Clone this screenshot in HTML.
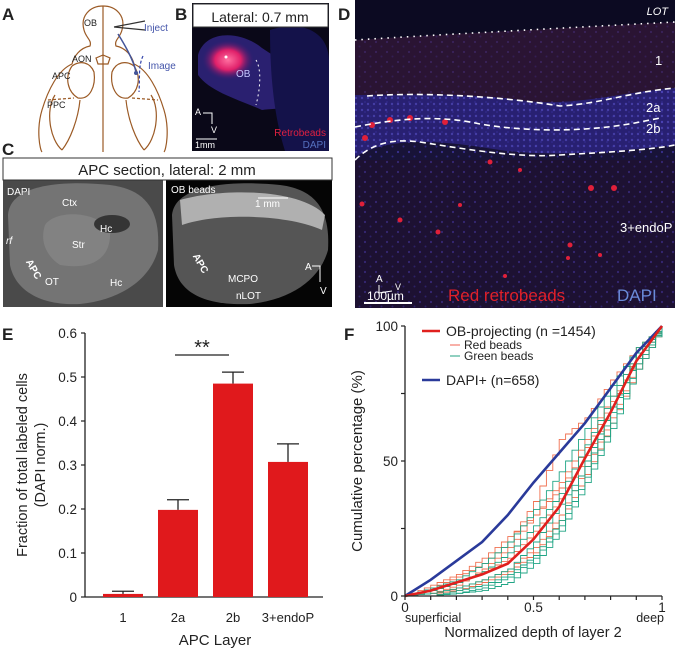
<!DOCTYPE html>
<html><head><meta charset="utf-8"><style>
html,body{margin:0;padding:0;background:#fff;}
body{width:675px;height:651px;position:relative;overflow:hidden;font-family:"Liberation Sans",sans-serif;}
svg{position:absolute;left:0;top:0;}
</style></head><body>
<svg width="675" height="651" viewBox="0 0 675 651" font-family="Liberation Sans, sans-serif">
<defs>
<pattern id="dapi" width="11" height="10" patternUnits="userSpaceOnUse">
<rect width="11" height="10" fill="#181338"/>
<circle cx="2" cy="2" r="1.1" fill="#3a3190"/>
<circle cx="7.5" cy="6.5" r="1" fill="#2e2780"/>
</pattern>
<pattern id="dense" width="6" height="6" patternUnits="userSpaceOnUse">
<rect width="6" height="6" fill="#2c2380"/>
<circle cx="2" cy="2" r="1.2" fill="#5048c0"/>
</pattern>
<radialGradient id="obglow" cx="0.5" cy="0.5" r="0.5">
<stop offset="0" stop-color="#ff6fa0"/><stop offset="0.5" stop-color="#e0206a"/><stop offset="1" stop-color="#3a1a70" stop-opacity="0"/>
</radialGradient>
</defs>

<!-- Panel A -->
<g fill="none" stroke="#9b5a25" stroke-width="1.2">
<text x="2" y="20" font-size="17" font-weight="bold" fill="#222" stroke="none">A</text>
<path d="M103 6 C90 6 80 16 84 30 C86 38 92 40 90 46 C80 48 74 56 72 64 C58 70 48 90 42 110 C36 130 40 150 42 152"/>
<path d="M103 6 C116 6 126 16 122 30 C120 38 114 40 116 46 C126 48 132 56 134 64 C148 70 158 90 164 110 C170 130 166 150 164 152"/>
<line x1="103" y1="6" x2="103" y2="152"/>
<path d="M72 66 C64 78 68 92 78 98 C90 100 96 86 94 72 C90 62 80 60 72 66"/>
<path d="M134 66 C142 78 138 92 128 98 C116 100 110 86 112 72 C116 62 126 60 134 66"/>
<path d="M96 58 L103 55 L110 58 L108 64 L98 64 Z"/>
<path d="M55 95 C45 110 50 140 62 150"/><path d="M80 100 C78 120 70 140 62 150"/>
<path d="M151 95 C161 110 156 140 144 150"/><path d="M126 100 C128 120 136 140 144 150"/>
<path d="M48 100 L74 98" stroke-dasharray="3,2"/><path d="M132 98 L158 100" stroke-dasharray="3,2"/>
<text x="84" y="26" font-size="9" fill="#222" stroke="none">OB</text>
<text x="72" y="62" font-size="9" fill="#222" stroke="none">AON</text>
<text x="52" y="79" font-size="9" fill="#222" stroke="none">APC</text>
<text x="47" y="108" font-size="9" fill="#222" stroke="none">PPC</text>
<path d="M114 27 L145 21 M114 27 L145 30" stroke="#333"/>
<path d="M118 34 C128 50 134 62 136 72" stroke="#445599" stroke-width="1.5"/>
<circle cx="136" cy="73" r="2" fill="#445599" stroke="none"/>
<path d="M143 56 C138 66 140 80 139 92" stroke="#3344aa" stroke-dasharray="3,2"/>
<text x="144" y="31" font-size="10" fill="#4455aa" stroke="none">Inject</text>
<text x="148" y="69" font-size="10" fill="#4455aa" stroke="none">Image</text>
</g>

<!-- Panel B -->
<g>
<text x="175" y="20" font-size="17" font-weight="bold" fill="#222">B</text>
<rect x="192" y="3" width="137" height="148" fill="#0a0818"/>
<path d="M198 55 C205 30 240 30 262 48 C280 60 300 70 312 95 C305 110 275 108 262 110 C240 100 210 92 198 75 Z" fill="#2a2070"/>
<path d="M270 30 C300 20 328 30 329 60 L329 151 L285 151 C275 120 270 80 270 30 Z" fill="#14124a"/>
<ellipse cx="228" cy="60" rx="26" ry="20" fill="url(#obglow)"/>
<circle cx="226" cy="57" r="1.5" fill="#fff"/>
<path d="M256 60 C262 70 260 90 256 105" stroke="#fff" stroke-dasharray="2,3" fill="none"/>
<rect x="193" y="4" width="135" height="23" fill="#fff" stroke="#333"/>
<text x="260" y="22" font-size="14" text-anchor="middle" fill="#222">Lateral: 0.7 mm</text>
<text x="236" y="77" font-size="10" fill="#c8c8ff">OB</text>
<text x="195" y="115" font-size="9" fill="#fff">A</text>
<path d="M203 113 L212 113 L212 124" stroke="#fff" fill="none"/>
<text x="211" y="133" font-size="9" fill="#fff">V</text>
<line x1="196" y1="139" x2="217" y2="139" stroke="#fff"/>
<text x="195" y="148" font-size="9" fill="#fff">1mm</text>
<text x="326" y="136" font-size="10" fill="#e02040" text-anchor="end">Retrobeads</text>
<text x="326" y="148" font-size="10" fill="#5570c0" text-anchor="end">DAPI</text>
</g>

<!-- Panel C -->
<g>
<text x="2" y="155" font-size="17" font-weight="bold" fill="#222">C</text>
<rect x="3" y="180" width="160" height="127" fill="#4a4a4a"/>
<path d="M8 215 C10 185 60 180 110 185 C150 190 160 215 158 250 C150 280 120 300 80 304 C40 306 15 290 10 265 Z" fill="#747474"/>
<path d="M45 225 C55 210 95 210 110 230 C112 260 90 270 60 265 C45 255 40 240 45 225 Z" fill="#828282"/>
<ellipse cx="112" cy="224" rx="18" ry="9" fill="#353535"/>
<rect x="166" y="180" width="166" height="127" fill="#050505"/>
<path d="M172 215 C175 185 230 180 280 185 C320 190 330 215 328 250 C320 280 290 300 250 304 C200 306 178 290 174 265 Z" fill="#555"/>
<path d="M180 200 C220 188 300 188 325 215 L322 230 C290 215 220 212 182 225 Z" fill="#b0b0b0"/>
<rect x="3" y="158" width="329" height="22" fill="#fff" stroke="#333"/>
<text x="167" y="175" font-size="15" text-anchor="middle" fill="#222">APC section, lateral: 2 mm</text>
<g font-size="10" fill="#fff">
<text x="7" y="195">DAPI</text><text x="62" y="206">Ctx</text><text x="100" y="232">Hc</text>
<text x="72" y="248">Str</text><text x="6" y="244" font-style="italic">rf</text>
<text x="30" y="270" font-weight="bold" transform="rotate(60 35 262)">APC</text>
<text x="45" y="285">OT</text><text x="110" y="286">Hc</text>
<text x="171" y="193">OB beads</text><text x="255" y="207">1 mm</text>
<text x="197" y="262" font-weight="bold" transform="rotate(60 200 255)">APC</text>
<text x="228" y="282">MCPO</text><text x="236" y="299">nLOT</text>
<text x="305" y="270">A</text><text x="320" y="294">V</text>
</g>
<line x1="258" y1="198" x2="288" y2="198" stroke="#fff"/>
<path d="M312 266 L320 266 L320 282" stroke="#fff" fill="none"/>
</g>

<!-- Panel D -->
<g>
<text x="338" y="20" font-size="17" font-weight="bold" fill="#222">D</text>
<rect x="355" y="0" width="320" height="308" fill="url(#dapi)"/>
<path d="M355 0 L675 0 L675 22 C600 26 450 34 355 40 Z" fill="#0c0a22"/>
<path d="M355 40 C450 34 600 26 675 22 L675 88 C620 92 570 108 520 100 C450 92 380 96 355 95 Z" fill="#3a1530" opacity="0.55"/>
<path d="M355 95 C400 95 460 92 520 100 C570 108 620 92 675 88 L675 145 C630 150 560 158 500 150 C440 140 390 136 355 157 Z" fill="url(#dense)" opacity="0.8"/>
<rect x="355" y="160" width="320" height="148" fill="#2a0a20" opacity="0.25"/>
<g fill="#e0203a">
<circle cx="372" cy="125" r="3"/><circle cx="390" cy="120" r="3"/><circle cx="410" cy="118" r="3"/><circle cx="445" cy="122" r="3"/><circle cx="365" cy="138" r="3"/>
<circle cx="490" cy="162" r="2.5"/><circle cx="520" cy="170" r="2"/><circle cx="591" cy="188" r="3"/><circle cx="614" cy="188" r="3"/>
<circle cx="362" cy="204" r="2.5"/><circle cx="400" cy="220" r="2.5"/><circle cx="438" cy="232" r="2.5"/><circle cx="460" cy="205" r="2"/>
<circle cx="570" cy="245" r="2.5"/><circle cx="568" cy="258" r="2"/><circle cx="505" cy="276" r="2"/><circle cx="600" cy="255" r="2"/>
</g>
<g fill="none" stroke="#fff" stroke-width="1.6">
<path d="M355 40 C450 34 600 26 675 22" stroke-dasharray="1.5,5"/>
<path d="M367 96 C420 92 500 96 560 106 C600 104 630 92 675 88" stroke-dasharray="6,4"/>
<path d="M355 127 C400 118 440 115 480 124 C540 134 600 130 640 122 L660 118" stroke-dasharray="6,4"/>
<path d="M355 160 C370 145 390 138 420 142 C470 150 520 158 560 155 C610 152 650 150 675 145" stroke-dasharray="6,4"/>
</g>
<g fill="#fff" font-size="13">
<text x="668" y="15" font-size="11" font-style="italic" text-anchor="end">LOT</text>
<text x="655" y="65">1</text><text x="646" y="112">2a</text><text x="646" y="133">2b</text>
<text x="620" y="232">3+endoP</text>
<text x="376" y="282" font-size="10">A</text><text x="395" y="290" font-size="9">V</text>
<text x="367" y="300" font-size="12">100µm</text>
</g>
<path d="M379 285 L379 293 L392 291" stroke="#fff" fill="none"/>
<line x1="364" y1="303" x2="412" y2="303" stroke="#fff" stroke-width="2"/>
<text x="448" y="301" font-size="17" fill="#e0202a">Red retrobeads</text>
<text x="617" y="301" font-size="17" fill="#6a8ad8">DAPI</text>
</g>

<!-- Panel E -->
<g>
<text x="2" y="340" font-size="17" font-weight="bold" fill="#222">E</text>
<g id="e-axes"></g>
<g id="e-bars"></g>
<line x1="175" y1="355" x2="229" y2="355" stroke="#222" stroke-width="1.2"/>
<text x="202" y="354" font-size="20" text-anchor="middle" fill="#222">**</text>
<text transform="translate(27 465) rotate(-90)" font-size="14.5" text-anchor="middle" fill="#222">Fraction of total labeled cells</text>
<text transform="translate(45 465) rotate(-90)" font-size="14.5" text-anchor="middle" fill="#222">(DAPI norm.)</text>
<text x="215" y="645" font-size="15" text-anchor="middle" fill="#222">APC Layer</text>
</g>

<!-- Panel F -->
<g>
<text x="344" y="340" font-size="17" font-weight="bold" fill="#222">F</text>
<g id="f-thin"></g>
<g id="f-main"></g>
<g id="f-axes"></g>
<g>
<line x1="422" y1="331" x2="440" y2="331" stroke="#e0201e" stroke-width="2.5"/>
<text x="446" y="336" font-size="14" fill="#222">OB-projecting (n =1454)</text>
<line x1="450" y1="345" x2="460" y2="345" stroke="#f06050" stroke-width="1"/>
<text x="464" y="349" font-size="12" fill="#222">Red beads</text>
<line x1="450" y1="356" x2="460" y2="356" stroke="#20a080" stroke-width="1"/>
<text x="464" y="360" font-size="12" fill="#222">Green beads</text>
<line x1="422" y1="380" x2="440" y2="380" stroke="#2a3a9a" stroke-width="2.5"/>
<text x="446" y="385" font-size="14" fill="#222">DAPI+ (n=658)</text>
</g>
<text transform="translate(362 461) rotate(-90)" font-size="15" text-anchor="middle" fill="#222">Cumulative percentage (%)</text>
<text x="405" y="622" font-size="12.5" fill="#222">superficial</text>
<text x="664" y="622" font-size="12.5" text-anchor="end" fill="#222">deep</text>
<text x="533" y="637" font-size="14.5" text-anchor="middle" fill="#222">Normalized depth of layer 2</text>
</g>
</svg>
<script>
// ---- Panel E data ----
var eCategories = ["1", "2a", "2b", "3+endoP"];
var eValues = [0.007, 0.198, 0.485, 0.307];
var eErrors = [0.006, 0.023, 0.026, 0.041];
var eTicks = [0, 0.1, 0.2, 0.3, 0.4, 0.5, 0.6];
var eTickLabels = ["0", "0.1", "0.2", "0.3", "0.4", "0.5", "0.6"];

// ---- Panel F data ----
var fX = [0, 0.1, 0.2, 0.3, 0.4, 0.5, 0.6, 0.7, 0.8, 0.9, 1];
var fOB = [0, 2, 5, 8, 12, 21, 33, 51, 68, 87, 100];
var fDAPI = [0, 6, 13, 20, 30, 42, 53, 64, 77, 90, 100];
var fRedBeads = [
  [0, 1, 4, 10, 18, 30, 42, 58, 74, 90, 100],
  [0, 3, 7, 12, 20, 35, 58, 66, 80, 92, 100],
  [0, 0, 3, 6, 10, 18, 30, 48, 66, 86, 100],
  [0, 4, 8, 14, 22, 30, 40, 55, 72, 88, 100],
  [0, 2, 5, 9, 14, 24, 36, 52, 70, 90, 100],
  [0, 1, 2, 5, 9, 16, 28, 45, 64, 84, 100]
];
var fGreenBeads = [
  [0, 0, 1, 3, 7, 14, 26, 44, 64, 86, 100],
  [0, 2, 5, 9, 16, 26, 38, 56, 74, 90, 100],
  [0, 0, 2, 4, 8, 15, 28, 50, 70, 88, 100],
  [0, 1, 3, 6, 10, 20, 34, 48, 68, 90, 100],
  [0, 3, 6, 12, 20, 32, 46, 62, 78, 92, 100],
  [0, 0, 1, 2, 5, 12, 24, 42, 62, 84, 100]
];
var fYTicks = [0, 25, 50, 75, 100];
var fYLabels = ["0", "", "50", "", "100"];
var fXTicks = [0, 0.1, 0.2, 0.3, 0.4, 0.5, 0.6, 0.7, 0.8, 0.9, 1];
var fXLabels = ["0", "", "", "", "", "0.5", "", "", "", "", "1"];

var NS = "http://www.w3.org/2000/svg";
function mk(tag, attrs, parent) {
  var el = document.createElementNS(NS, tag);
  for (var k in attrs) el.setAttribute(k, attrs[k]);
  parent.appendChild(el);
  return el;
}

function eY(v) { return 597 - v * 440; }
function eX(i) { return 123 + i * 55; }
var eAx = document.getElementById("e-axes");
var eB = document.getElementById("e-bars");
var ax = mk("line", {x1: 85, y1: eY(0.6), x2: 85, y2: 597, stroke: "#222", "stroke-width": 1.3}, eAx);


var axx = mk("line", {x1: 85, y1: 597, x2: 323, y2: 597, stroke: "#222", "stroke-width": 1.3}, eAx);


eTicks.forEach(function (t, i) {
  mk("line", {x1: 81, y1: eY(t), x2: 85, y2: eY(t), stroke: "#222", "stroke-width": 1.2}, eAx);
  var tl = mk("text", {x: 77, y: eY(t) + 5, "font-size": 13.5, "text-anchor": "end", fill: "#222"}, eAx);
  tl.textContent = eTickLabels[i];
  
  
});
eCategories.forEach(function (c, i) {
  var x = eX(i);
  var top = eY(eValues[i] + eErrors[i]);
  mk("line", {x1: x, y1: eY(eValues[i]), x2: x, y2: top, stroke: "#222", "stroke-width": 1.3}, eB);
  mk("line", {x1: x - 11, y1: top, x2: x + 11, y2: top, stroke: "#222", "stroke-width": 1.3}, eB);
  var r = mk("rect", {x: x - 20, y: eY(eValues[i]), width: 40, height: 597 - eY(eValues[i]), fill: "#e0191c"}, eB);
  
  
  var tl = mk("text", {x: x, y: 622, "font-size": 13, "text-anchor": "middle", fill: "#222"}, eB);
  tl.textContent = c;
  
  
});

function fxs(v) { return 405 + v * 257; }
function fys(v) { return 596 - v * 2.7; }
function linePath(xs, ys) {
  return xs.map(function (x, i) { return (i ? "L" : "M") + fxs(x).toFixed(1) + " " + fys(ys[i]).toFixed(1); }).join(" ");
}
function stepPath(xs, ys) {
  var d = "M" + fxs(xs[0]) + " " + fys(ys[0]);
  for (var i = 1; i < xs.length; i++) {
    var xm1 = fxs(xs[i - 1]), xc = fxs(xs[i]);
    var yp = ys[i - 1], yc = ys[i];
    var steps = 4;
    for (var s = 1; s <= steps; s++) {
      var xx = xm1 + (xc - xm1) * s / steps;
      var yy = yp + (yc - yp) * s / steps;
      d += " H" + xx.toFixed(1) + " V" + fys(yy).toFixed(1);
    }
  }
  return d;
}
var fThin = document.getElementById("f-thin");
fRedBeads.forEach(function (s) {
  var p = mk("path", {d: stepPath(fX, s), fill: "none", stroke: "#f07050", "stroke-width": 0.9}, fThin);
  
  
});
fGreenBeads.forEach(function (s) {
  var p = mk("path", {d: stepPath(fX, s), fill: "none", stroke: "#20a585", "stroke-width": 0.9}, fThin);
  
  
});
var fMain = document.getElementById("f-main");
var pb = mk("path", {d: linePath(fX, fDAPI), fill: "none", stroke: "#2a3a9a", "stroke-width": 2.6}, fMain);


var pr = mk("path", {d: linePath(fX, fOB), fill: "none", stroke: "#e0201e", "stroke-width": 2.6}, fMain);



var fAx = document.getElementById("f-axes");
var fya = mk("line", {x1: 405, y1: fys(100), x2: 405, y2: 596, stroke: "#222", "stroke-width": 1.3}, fAx);


var fxa = mk("line", {x1: 405, y1: 596, x2: 662, y2: 596, stroke: "#222", "stroke-width": 1.3}, fAx);


fYTicks.forEach(function (t, i) {
  mk("line", {x1: 401, y1: fys(t), x2: 405, y2: fys(t), stroke: "#222", "stroke-width": 1.2}, fAx);
  if (fYLabels[i]) {
    var tl = mk("text", {x: 398, y: fys(t) + 5, "font-size": 13.5, "text-anchor": "end", fill: "#222"}, fAx);
    tl.textContent = fYLabels[i];
    
    
  }
});
fXTicks.forEach(function (t, i) {
  mk("line", {x1: fxs(t), y1: 596, x2: fxs(t), y2: 600, stroke: "#222", "stroke-width": 1.2}, fAx);
  if (fXLabels[i]) {
    var tl = mk("text", {x: fxs(t), y: 612, "font-size": 13.5, "text-anchor": "middle", fill: "#222"}, fAx);
    tl.textContent = fXLabels[i];
    
    
  }
});
</script>
</body></html>
